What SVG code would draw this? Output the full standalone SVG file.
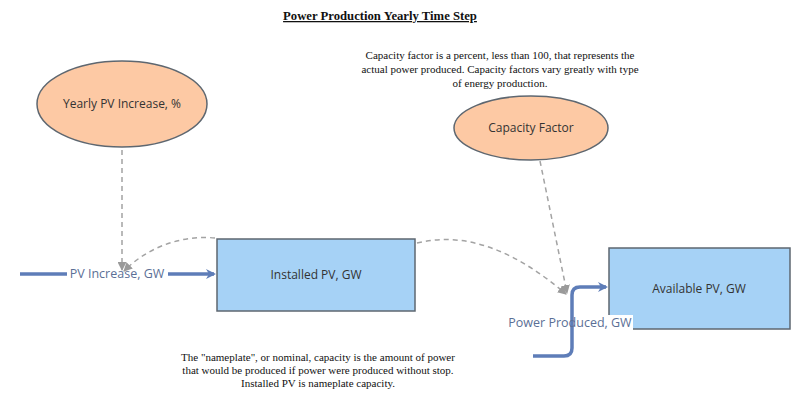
<svg xmlns="http://www.w3.org/2000/svg" width="800" height="400" viewBox="0 0 800 400">
<style>
.note{font-family:"Liberation Serif","Times New Roman",serif;font-size:11px;fill:#111;text-anchor:middle}
.title{font-family:"Liberation Serif",serif;font-size:12.7px;font-weight:bold;fill:#111;text-anchor:middle;text-decoration:underline}
.lbl{font-family:"Open Sans","Liberation Sans",sans-serif;font-size:12px;fill:#333;text-anchor:middle;dominant-baseline:middle}
.flbl{font-family:"Open Sans","Liberation Sans",sans-serif;font-size:12.5px;fill:#5b6f96;text-anchor:middle;dominant-baseline:middle}
.ell{fill:#fdc9a4;stroke:#5e6770;stroke-width:1.5}
.box{fill:#a6d2f6;stroke:#5e6770;stroke-width:1.5}
.flow{fill:none;stroke:#5e7db8;stroke-width:3.5}
.dash{fill:none;stroke:#a3a3a3;stroke-width:1.5;stroke-dasharray:5,4}
</style>
<defs>
<marker id="fa" markerWidth="10" markerHeight="10" refX="8" refY="5" orient="auto" markerUnits="userSpaceOnUse" viewBox="0 0 10 10">
<path d="M0,0 L10,5 L0,10 L3,5 Z" fill="#5e7db8"/>
</marker>
<marker id="da" markerWidth="9" markerHeight="9" refX="8" refY="4.5" orient="auto" markerUnits="userSpaceOnUse" viewBox="0 0 9 9">
<path d="M0,0 L9,4.5 L0,9 Z" fill="#9a9a9a"/>
</marker>
</defs>
<rect width="800" height="400" fill="#fff"/>
<text class="title" x="380" y="20">Power Production Yearly Time Step</text>
<text class="note" x="500" y="59">Capacity factor is a percent, less than 100, that represents the</text>
<text class="note" x="500" y="73">actual power produced. Capacity factors vary greatly with type</text>
<text class="note" x="500" y="87">of energy production.</text>
<text class="note" x="318" y="361">The "nameplate", or nominal, capacity is the amount of power</text>
<text class="note" x="318" y="374">that would be produced if power were produced without stop.</text>
<text class="note" x="318" y="387">Installed PV is nameplate capacity.</text>
<g id="yearly">
<ellipse class="ell" cx="122" cy="104" rx="85" ry="43"/>
<text class="lbl" x="122" y="105">Yearly PV Increase, %</text>
</g>
<g id="capacity">
<ellipse class="ell" cx="531" cy="128" rx="77" ry="32"/>
<text class="lbl" x="531" y="129">Capacity Factor</text>
</g>
<g id="installed">
<rect class="box" x="217" y="239" width="198" height="72"/>
<text class="lbl" x="316" y="276">Installed PV, GW</text>
</g>
<g id="available">
<rect class="box" x="609" y="248" width="181" height="81"/>
<text class="lbl" x="699" y="290">Available PV, GW</text>
</g>
<g id="connectors">
<path class="flow" d="M20,274 L214,274" marker-end="url(#fa)"/>
<rect x="67" y="266" width="101" height="17" fill="#fff"/>
<text class="flbl" x="117" y="275">PV Increase, GW</text>
<rect x="508" y="315" width="125" height="17" fill="#fff"/>
<path class="flow" d="M533,356 L564,356 Q572,356 572,348 L572,295 Q572,287 580,287 L606,287" marker-end="url(#fa)"/>
<text class="flbl" x="570" y="324">Power Produced, GW</text>
<path class="dash" d="M122,150 L122,270" marker-end="url(#da)"/>
<path class="dash" d="M215,238 C185,235 150,245 124,271" marker-end="url(#da)"/>
<path class="dash" d="M417,243 C470,230 520,255 566,294" marker-end="url(#da)"/>
<path class="dash" d="M540,161 L567,293" marker-end="url(#da)"/>
</g>
</svg>
